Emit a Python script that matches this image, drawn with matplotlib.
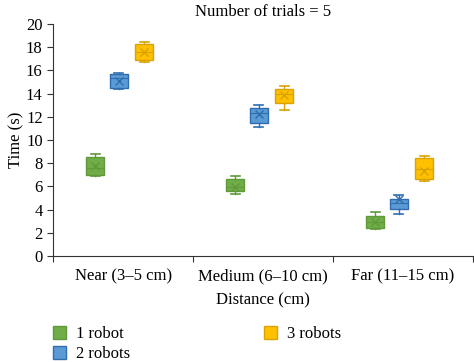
import matplotlib.pyplot as plt
from matplotlib.patches import Patch

plt.rcParams['font.family'] = ['Liberation Serif', 'DejaVu Serif']

categories = ["Near (3–5 cm)", "Medium (6–10 cm)", "Far (11–15 cm)"]
series = ["1 robot", "2 robots", "3 robots"]
colors = ["#70AD47", "#5B9BD5", "#FFC000"]
edges = ["#5E9A3A", "#2F6DB0", "#D9A300"]

# per series, per category: whisker low, q1, median, q3, whisker high, mean
whislo = [[6.9, 5.3, 2.3], [14.4, 11.1, 3.6], [16.7, 12.6, 6.5]]
q1 = [[7.0, 5.6, 2.4], [14.5, 11.5, 4.05], [16.9, 13.2, 6.6]]
med = [[7.6, 5.9, 2.9], [15.3, 12.3, 4.6], [17.6, 14.0, 7.5]]
q3 = [[8.55, 6.65, 3.4], [15.65, 12.75, 4.95], [18.3, 14.4, 8.4]]
whishi = [[8.75, 6.9, 3.75], [15.8, 13.05, 5.25], [18.4, 14.65, 8.65]]
means = [[7.75, 5.9, 2.9], [15.1, 12.2, 4.9], [17.55, 13.9, 7.3]]

offsets = [-0.2, -0.03, 0.15]
width = 0.13

fig = plt.figure(figsize=(4.74, 3.62), dpi=100)
ax = fig.add_axes([0.112, 0.293, 0.886, 0.641])

for s in range(3):
    stats = []
    for c in range(3):
        stats.append(dict(whislo=whislo[s][c], q1=q1[s][c], med=med[s][c],
                          q3=q3[s][c], whishi=whishi[s][c], mean=means[s][c],
                          fliers=[]))
    pos = [c + 0.5 + offsets[s] for c in range(3)]
    ax.bxp(stats, positions=pos, widths=width, patch_artist=True,
           showmeans=True, manage_ticks=False,
           boxprops=dict(facecolor=colors[s], edgecolor=edges[s], linewidth=1),
           medianprops=dict(color=edges[s], linewidth=0.8),
           whiskerprops=dict(color=edges[s], linewidth=1),
           capprops=dict(color=edges[s], linewidth=1.2),
           meanprops=dict(marker='x', markeredgecolor=edges[s],
                          markersize=6, markeredgewidth=1),
           capwidths=width * 0.5)

ax.set_xlim(0, 3)
ax.set_ylim(0, 20)
ax.set_yticks(range(0, 21, 2))
ax.set_xticks([0, 1, 2, 3])
ax.set_xticklabels([])
ax.set_xticks([0.5, 1.5, 2.5], minor=True)
ax.set_xticklabels(categories, minor=True)
ax.tick_params(axis='x', which='minor', length=0, labelsize=12, pad=9)
ax.tick_params(axis='x', which='major', length=4, color='#333333')
ax.tick_params(axis='y', length=4, labelsize=12, color='#333333')
for sp in ['top', 'right']:
    ax.spines[sp].set_visible(False)
for sp in ['left', 'bottom']:
    ax.spines[sp].set_color('#333333')

ax.set_ylabel("Time (s)", fontsize=12, labelpad=1)
ax.set_xlabel("Distance (cm)", fontsize=12, labelpad=6)
ax.set_title("Number of trials = 5", fontsize=12, pad=6)

handles = [Patch(facecolor=colors[i], edgecolor=edges[i], label=series[i])
           for i in range(3)]
fig.legend(handles=handles, ncol=2, loc='upper left',
           bbox_to_anchor=(0.098, 0.118), frameon=False, fontsize=12,
           handlelength=0.8, handleheight=0.8, handletextpad=0.6,
           labelspacing=0.25, columnspacing=8.0, borderaxespad=0)

fig.savefig("out.png", dpi=100)
